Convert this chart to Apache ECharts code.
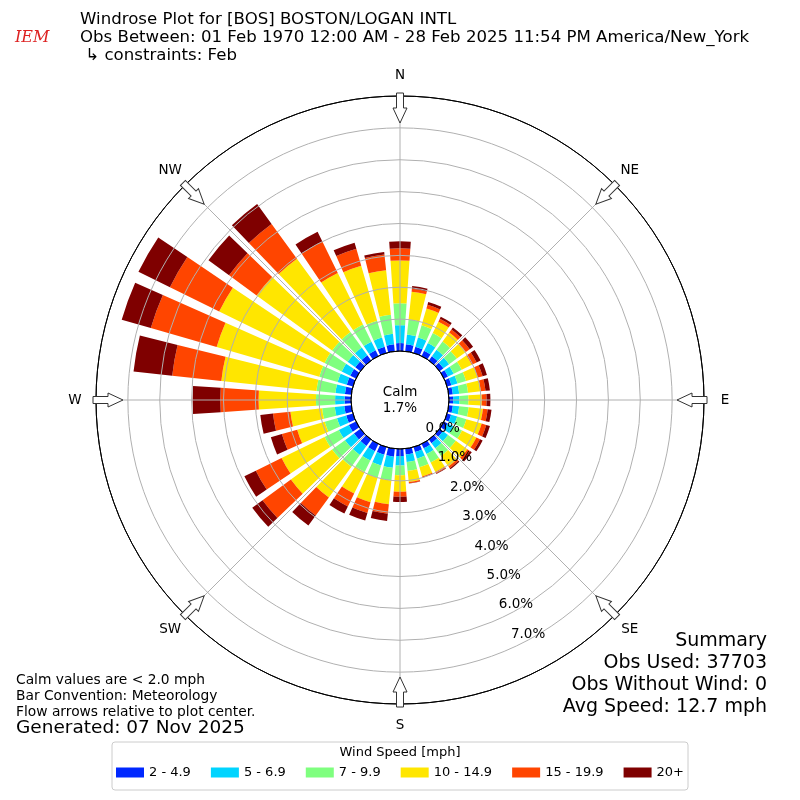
<!DOCTYPE html>
<html><head><meta charset="utf-8">
<script src="https://cdn.jsdelivr.net/npm/echarts@6/dist/echarts.min.js"></script>
<style>html,body{margin:0;background:#fff}#c{width:800px;height:800px}</style>
</head><body><div id="c"></div>
<script>
const directions = ['0','10','20','30','40','50','60','70','80','90','100','110','120','130','140','150','160','170','180','190','200','210','220','230','240','250','260','270','280','290','300','310','320','330','340','350'];
const speedBins = ['2 - 4.9','5 - 6.9','7 - 9.9','10 - 14.9','15 - 19.9','20+'];
const s1 = [.25,.22,.2,.18,.16,.15,.14,.14,.13,.13,.13,.13,.13,.13,.14,.15,.16,.18,.22,.25,.25,.25,.25,.25,.25,.22,.22,.2,.2,.2,.2,.2,.2,.2,.2,.22];
const s2 = [.56,.31,.3,.27,.25,.22,.2,.2,.2,.2,.2,.2,.2,.2,.2,.2,.22,.24,.3,.35,.35,.33,.35,.35,.35,.3,.3,.3,.3,.3,.3,.3,.3,.3,.3,.33];
const s3 = [.69,.47,.4,.35,.32,.3,.28,.28,.28,.28,.3,.3,.3,.3,.3,.3,.28,.28,.3,.4,.4,.4,.45,.5,.5,.4,.4,.6,.6,.6,.6,.6,.6,.6,.55,.6];
const s4 = [1.34,.88,.55,.4,.35,.35,.35,.38,.4,.42,.45,.5,.5,.45,.4,.33,.3,.35,.52,.75,.8,.75,1.2,1.6,1.5,.9,1.0,1.8,3.0,3.35,3.68,2.93,2.85,1.8,1.8,1.41];
const s5 = [.38,.09,.12,.1,.12,.15,.17,.16,.15,.15,.15,.15,.13,.1,.07,.05,.03,.04,.16,.3,.35,.45,.7,1.1,.9,.5,.55,1.2,1.55,2.15,1.72,1.07,1.35,1.1,.55,.49];
const s6 = [.22,.09,.09,.07,.08,.13,.14,.14,.14,.12,.12,.12,.09,.07,.04,.02,.01,.01,.16,.23,.25,.25,.39,.4,.4,.36,.4,.87,1.22,.95,1.1,.8,.77,.34,.2,.08];
const radialTicks = [0,1,2,3,4,5,6,7];
const compass = ['N','NE','E','SE','S','SW','W','NW'];
const colors = ['#0028ff','#00d4ff','#7fff7f','#ffe600','#ff4500','#7f0000'];
const series = [s1,s2,s3,s4,s5,s6];

const cx=400, cy=400, r0=49, r1=304, vmax=8;
const rad = v => r0 + (r1-r0)*v/vmax;
const g = [];
radialTicks.forEach(v=>{
  const a = 157.5*Math.PI/180, r = rad(v);
  g.push({type:'text', x: cx + r*Math.sin(a) + 24, y: cy - r*Math.cos(a) - 17,
    style:{text: v.toFixed(1)+'%', font:'13.5px DejaVu Sans', fill:'#000', align:'center', verticalAlign:'middle'}, z:50});
});
compass.forEach((t,i)=>{
  const deg=i*45, a=deg*Math.PI/180, r=325;
  g.push({type:'text', x: cx + r*Math.sin(a), y: cy - r*Math.cos(a),
    style:{text:t, font:'13.5px DejaVu Sans', fill:'#000', align:'center', verticalAlign:'middle'}, z:50});
  g.push({type:'polygon', x:cx, y:cy, rotation:-a,
    shape:{points:[[-3.5,-r1-3],[3.5,-r1-3],[3.5,-r1+12],[7,-r1+12],[0,-r1+27],[-7,-r1+12],[-3.5,-r1+12]]},
    style:{fill:'#fff', stroke:'#333', lineWidth:1}, z:60});
});
g.push({type:'text', x:cx, y:cy, style:{text:'Calm\n1.7%', font:'13.5px DejaVu Sans', fill:'#000', align:'center', verticalAlign:'middle', lineHeight:16}, z:50});
g.push({type:'text', x:80, y:11, style:{text:'Windrose Plot for [BOS] BOSTON/LOGAN INTL\nObs Between: 01 Feb 1970 12:00 AM - 28 Feb 2025 11:54 PM America/New_York\n ↳ constraints: Feb', font:'16.6px DejaVu Sans', fill:'#000', lineHeight:18}});
g.push({type:'text', x:15, y:30, style:{text:'IEM', font:'italic 16px DejaVu Serif', fill:'#d22'}});
g.push({type:'text', x:767, y:630, style:{text:'Summary\nObs Used: 37703\nObs Without Wind: 0\nAvg Speed: 12.7 mph', font:'19px DejaVu Sans', fill:'#000', align:'right', lineHeight:22}});
g.push({type:'text', x:16, y:672, style:{text:'Calm values are < 2.0 mph\nBar Convention: Meteorology\nFlow arrows relative to plot center.', font:'13.8px DejaVu Sans', fill:'#000', lineHeight:16}});
g.push({type:'text', x:16, y:719, style:{text:'Generated: 07 Nov 2025', font:'18.5px DejaVu Sans', fill:'#000'}});
g.push({type:'rect', shape:{x:112,y:742,width:576,height:48,r:3}, style:{fill:'#fff', stroke:'#ccc', lineWidth:1}, z:-1});
g.push({type:'text', x:400, y:753, style:{text:'Wind Speed [mph]', font:'13px DejaVu Sans', fill:'#000', align:'center', verticalAlign:'middle'}});

const chart = echarts.init(document.getElementById('c'));
chart.setOption({
  animation:false,
  polar:[{center:[cx,cy], radius:[r0,r1]},{center:[cx,cy], radius:[r0,r1]}],
  angleAxis:[
    {polarIndex:0, type:'category', data:directions, startAngle:95, clockwise:true, boundaryGap:true,
      axisLine:{show:false}, axisTick:{show:false}, axisLabel:{show:false}, splitLine:{show:false}},
    {polarIndex:1, type:'value', min:0, max:360, interval:45, startAngle:90, clockwise:true, z:20,
      axisLine:{show:true, lineStyle:{color:'#000', width:1}}, axisTick:{show:false}, axisLabel:{show:false},
      splitLine:{show:true, lineStyle:{color:'#b0b0b0', width:1}}}
  ],
  radiusAxis:[
    {polarIndex:0, min:0, max:vmax, axisLine:{show:false}, axisTick:{show:false}, axisLabel:{show:false}, splitLine:{show:false}},
    {polarIndex:1, min:0, max:vmax, interval:1, z:20, axisLine:{show:false}, axisTick:{show:false}, axisLabel:{show:false},
      splitLine:{show:true, lineStyle:{color:['#000','#b0b0b0','#b0b0b0','#b0b0b0','#b0b0b0','#b0b0b0','#b0b0b0','#b0b0b0','#000'], width:1}}}
  ],
  legend:{bottom:16, left:'center', itemWidth:28, itemHeight:10, itemGap:20, icon:'rect',
    textStyle:{fontFamily:'DejaVu Sans', fontSize:13, color:'#000'}, data:speedBins},
  series: series.map((d,i)=>({type:'bar', coordinateSystem:'polar', polarIndex:0, name:speedBins[i], data:d, stack:'w',
    barCategoryGap:'22%', itemStyle:{color:colors[i]}, z:5})),
  graphic:g
});
</script></body></html>
